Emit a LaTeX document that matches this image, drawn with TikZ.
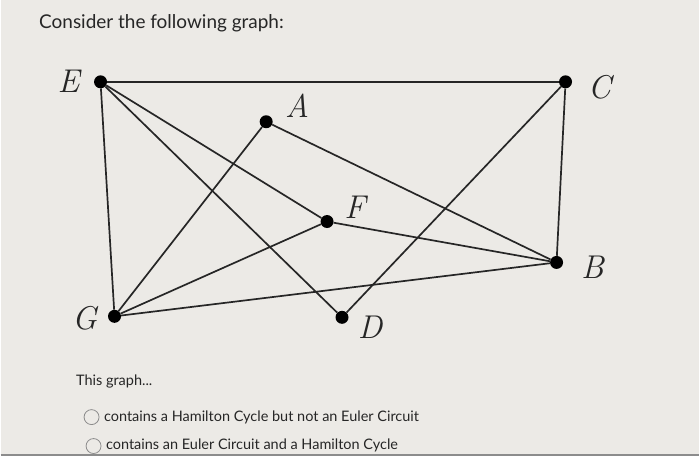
\documentclass[tikz,border=0pt]{standalone}
\usepackage{fontspec}
\setsansfont{Lato}
\begin{document}
\begin{tikzpicture}[x=1pt,y=-1pt,
  vtx/.style={circle,fill=black,inner sep=0pt,minimum width=13pt,minimum height=10pt},
  edge/.style={line width=1.7pt,draw=black!85},
  lbl/.style={font=\fontsize{33}{34}\selectfont\itshape,text=black!85},
  txt/.style={font=\sffamily\fontsize{14.5}{16}\selectfont,anchor=west,text=black!85},
  radio/.style={circle,draw=black!45,line width=0.8pt,minimum size=15pt,inner sep=0pt}]
\fill[color={rgb,255:red,236;green,234;blue,230}] (0,0) rectangle (700,457);
\draw[black!45,line width=1.5pt] (0,456) -- (700,456);
\node[anchor=west,font=\sffamily\fontsize{19}{22}\selectfont,text=black!85] (title) at (35,23) {Consider the following graph:};
\node[vtx] (E) at (100,82) {};
\node[vtx] (C) at (566,82) {};
\node[vtx] (A) at (266,122) {};
\node[vtx] (F) at (327,222) {};
\node[vtx] (B) at (557,263) {};
\node[vtx] (G) at (114,317) {};
\node[vtx] (D) at (342,318) {};
\node[lbl] (lE) at (68,81) {E};
\node[lbl] (lC) at (600,87) {C};
\node[lbl] (lA) at (297,106) {A};
\node[lbl] (lF) at (355,208) {F};
\node[lbl] (lB) at (593,268) {B};
\node[lbl] (lG) at (84,319) {G};
\node[lbl] (lD) at (370,328) {D};
\foreach \a/\b in {E/C,E/G,E/D,E/F,F/B,A/B,A/G,G/F,G/B,C/B,C/D}
  \draw[edge] (\a) -- (\b);
\node[txt] (q) at (72,382) {This graph...};
\node[radio] (r1) at (91,418) {};
\node[txt] (o1) at (100,418) {contains a Hamilton Cycle but not an Euler Circuit};
\node[radio] (r2) at (93,447) {};
\node[txt] (o2) at (102,446) {contains an Euler Circuit and a Hamilton Cycle};
\end{tikzpicture}
\end{document}
